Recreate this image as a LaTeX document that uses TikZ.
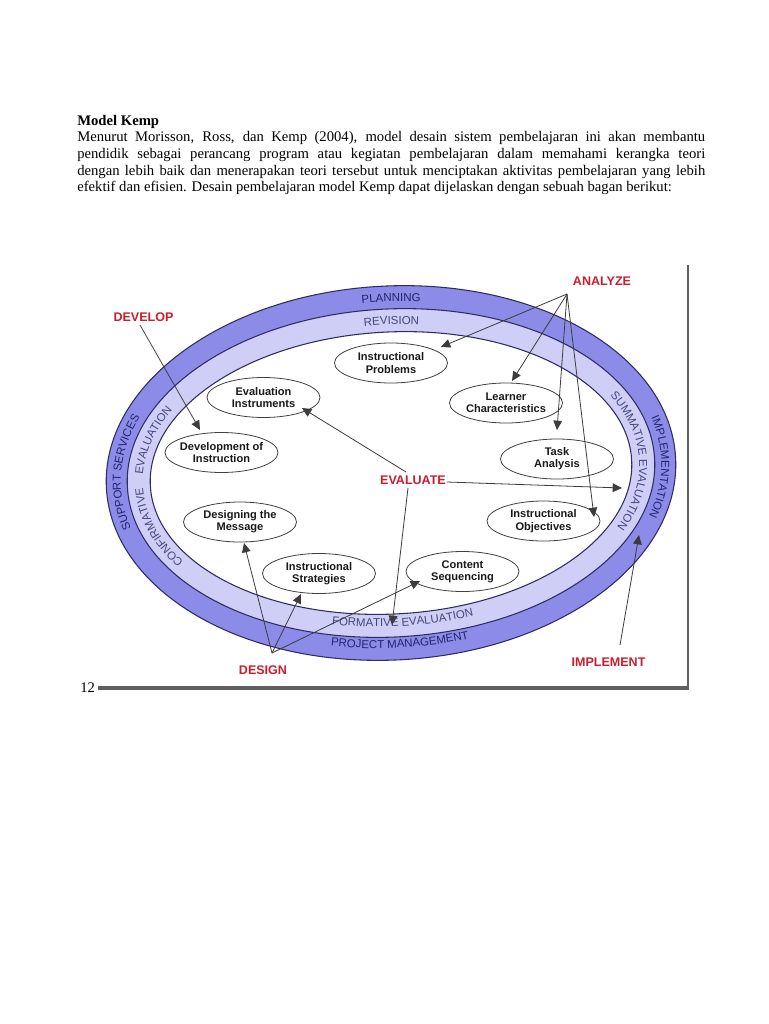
\documentclass[tikz,border=0pt]{standalone}
\usepackage{fontspec}
\setmainfont{Liberation Serif}
\setsansfont{Liberation Sans}
\usetikzlibrary{shapes.geometric, arrows.meta, decorations.text, calc}

\definecolor{bandA}{RGB}{140,140,232}
\definecolor{bandB}{RGB}{206,206,246}
\definecolor{bandline}{RGB}{45,45,100}
\definecolor{bandtxtA}{RGB}{35,35,110}
\definecolor{bandtxtB}{RGB}{70,70,125}
\definecolor{lblred}{RGB}{200,30,45}
\definecolor{arrowgray}{RGB}{60,60,60}
\definecolor{shadowgray}{RGB}{95,95,95}

\newcommand\bandfont{\sffamily\fontsize{8.6}{10}\selectfont}

\tikzset{
  kstage/.style={ellipse, draw=black!75, line width=0.6pt, fill=white,
    minimum width=84.75pt, minimum height=30pt, inner xsep=-1.5pt, inner ysep=0pt,
    align=center, font=\sffamily\bfseries\fontsize{8.3}{9.2}\selectfont, text=black!90},
  kphase/.style={font=\sffamily\bfseries\fontsize{9.4}{11}\selectfont, text=lblred, inner sep=0pt},
  klink/.style={draw=arrowgray, line width=0.6pt, -{Triangle[length=7pt,width=6.5pt]}},
  kbody/.style={anchor=base west, inner sep=0pt, font=\fontsize{11}{13}\selectfont},
  kband/.style={decorate},
}

\begin{document}
\begin{tikzpicture}[x=0.75pt,y=-0.75pt]
\useasboundingbox (0,0) rectangle (768,1024);
\fill[white] (0,0) rectangle (768,1024);

% ---- body text ----
\node[kbody, font=\bfseries\fontsize{11}{13}\selectfont] (title) at (77,125) {Model Kemp};
\node[kbody] (l2) at (77,142) {\makebox[471pt][s]{Menurut Morisson, Ross, dan Kemp (2004), model desain sistem pembelajaran ini akan membantu}};
\node[kbody] (l3) at (77,158.5) {\makebox[471pt][s]{pendidik sebagai perancang program atau kegiatan pembelajaran dalam memahami kerangka teori}};
\node[kbody] (l4) at (77,175) {\makebox[471pt][s]{dengan lebih baik dan menerapakan teori tersebut untuk menciptakan aktivitas pembelajaran yang lebih}};
\node[kbody] (l5) at (77,191.5) {efektif dan efisien. Desain pembelajaran model Kemp dapat dijelaskan dengan sebuah bagan berikut:};

% ---- screenshot frame shadow ----
\draw[shadowgray, line width=2pt] (688,265) -- (688,688);
\draw[shadowgray, line width=2.4pt] (98,688) -- (689,688);
\node[kbody] (pg) at (80,692) {12};

% ---- rings ----
\begin{scope}[shift={(391,473)}, rotate=3]
  \fill[bandA] (0,0) ellipse [x radius=285, y radius=187];
  \fill[bandB] (0,0) ellipse [x radius=264, y radius=164];
  \fill[white] (0,0) ellipse [x radius=241, y radius=141];
  \draw[bandline, line width=0.8pt]
     (0,0) ellipse [x radius=285, y radius=187]
     (0,0) ellipse [x radius=264, y radius=164]
     (0,0) ellipse [x radius=241, y radius=141];

  % outer band
  \path[kband, decoration={text along path, text align=center, text color=bandtxtA, text={|\bandfont|PLANNING}}]
     (252:270.5 and 171.5) arc[start angle=252, end angle=292, x radius=270.5, y radius=171.5];
  \path[kband, decoration={text along path, text align=center, text color=bandtxtA, text={|\bandfont|SUPPORT SERVICES}}]
     (144:270.5 and 171.5) arc[start angle=144, end angle=224, x radius=270.5, y radius=171.5];
  \path[kband, decoration={text along path, text align=center, text color=bandtxtA, text={|\bandfont|IMPLEMENTATION}}]
     (-25:270.5 and 171.5) arc[start angle=-25, end angle=30, x radius=270.5, y radius=171.5];
  \path[kband, decoration={text along path, text align=center, text color=bandtxtA, text={|\bandfont|PROJECT MANAGEMENT}}]
     (120:276 and 175) arc[start angle=120, end angle=60, x radius=276, y radius=175];

  % middle band
  \path[kband, decoration={text along path, text align=center, text color=bandtxtB, text={|\bandfont|REVISION}}]
     (252:248.5 and 148.5) arc[start angle=252, end angle=292, x radius=248.5, y radius=148.5];
  \path[kband, decoration={text along path, text align=center, text color=bandtxtB, text={|\bandfont|CONFIRMATIVE}}]
     (147:248.5 and 148.5) arc[start angle=147, end angle=181, x radius=248.5, y radius=148.5];
  \path[kband, decoration={text along path, text align=center, text color=bandtxtB, text={|\bandfont|EVALUATION}}]
     (182:248.5 and 148.5) arc[start angle=182, end angle=212, x radius=248.5, y radius=148.5];
  \path[kband, decoration={text along path, text align=center, text color=bandtxtB, text={|\bandfont|SUMMATIVE EVALUATION}}]
     (-40:248.5 and 148.5) arc[start angle=-40, end angle=40, x radius=248.5, y radius=148.5];
  \path[kband, decoration={text along path, text align=center, text color=bandtxtB, text={|\bandfont|FORMATIVE EVALUATION}}]
     (119:254 and 153.5) arc[start angle=119, end angle=59, x radius=254, y radius=153.5];
\end{scope}

% ---- stages ----
\node[kstage] (ip) at (391,363)   {Instructional\\Problems};
\node[kstage] (ei) at (263.5,397.5) {Evaluation\\Instruments};
\node[kstage] (lc) at (506,403)   {Learner\\Characteristics};
\node[kstage] (di) at (221.5,452.5) {Development of\\Instruction};
\node[kstage] (ta) at (557,459)   {Task\\Analysis};
\node[kstage] (dm) at (240,522)   {Designing the\\Message};
\node[kstage] (io) at (543.5,521) {Instructional\\Objectives};
\node[kstage] (is) at (319,573.5) {Instructional\\Strategies};
\node[kstage] (cs) at (462.5,571.5) {Content\\Sequencing};

% ---- phase labels ----
\node[kphase] (develop)   at (143.5,317) {DEVELOP};
\node[kphase] (analyze)   at (602,281.5) {ANALYZE};
\node[kphase] (evaluate)  at (413,480)   {EVALUATE};
\node[kphase] (design)    at (263,670)   {DESIGN};
\node[kphase] (implement) at (608.5,662.5) {IMPLEMENT};

% ---- connector anchors ----
\coordinate (az) at ($(analyze)+(-35,12.5)$);
\coordinate (dv) at ($(develop)+(-3.5,8)$);
\coordinate (dz) at ($(design)+(9,-17)$);
\coordinate (im) at ($(implement)+(11.5,-17.5)$);
\coordinate (se) at (622,488);
\coordinate (fe) at (392,625);
\coordinate (ie) at (639,535);

% ---- connectors ----
\draw[klink] (az) -- ($(ip)+(50,-16)$);
\draw[klink] (az) -- ($(lc)+(6,-22)$);
\draw[klink] (az) -- ($(ta)+(0,-29)$);
\draw[klink] (az) -- ($(io)+(50.5,-4)$);

\draw[klink] (dv) -- ($(di)+(-21.5,-22.5)$);

\draw[klink] ($(evaluate)+(-7,-8)$) -- ($(ei)+(38.5,10.5)$);
\draw[klink] ($(evaluate)+(34,2)$) -- (se);
\draw[klink] ($(evaluate)+(-5,8)$) -- (fe);

\draw[klink] (dz) -- ($(dm)+(4,21)$);
\draw[klink] (dz) -- ($(is)+(-18,20.5)$);
\draw[klink] (dz) -- ($(cs)+(-42.5,9.5)$);

\draw[klink] (im) -- (ie);
\end{tikzpicture}
\end{document}
